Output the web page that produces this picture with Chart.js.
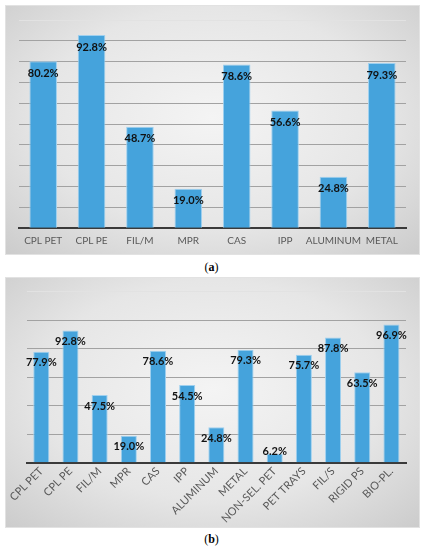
<!DOCTYPE html>
<html>
<head>
<meta charset="utf-8">
<script src="https://cdn.jsdelivr.net/npm/chart.js@4/dist/chart.umd.min.js"></script>
<style>
  body { margin: 0; background: #fff; width: 423px; height: 550px; position: relative; overflow: hidden; }
  .box {
    position: absolute; left: 6px; width: 413px;
    background: radial-gradient(ellipse 75% 80% at 50% 45%, #f4f4f4 0%, #e6e6e6 55%, #c9c9c9 100%);
    box-shadow: 0 0 0 1px #e2e2e2;
  }
  .box canvas { display: block; }
  .cap {
    position: absolute; left: 0; width: 423px; text-align: center;
    font-family: "Liberation Serif", "DejaVu Serif", serif; font-size: 12px; color: #000;
  }
</style>
</head>
<body>
<div class="box" style="top:6px;height:248px;"><canvas id="chartA" width="413" height="248"></canvas></div>
<div class="cap" style="top:260px;">(<b>a</b>)</div>
<div class="box" style="top:278px;height:249px;"><canvas id="chartB" width="413" height="249"></canvas></div>
<div class="cap" style="top:532px;">(<b>b</b>)</div>
<script>
// chart (a)
const labelsA = ['CPL PET', 'CPL PE', 'FIL/M', 'MPR', 'CAS', 'IPP', 'ALUMINUM', 'METAL'];
const valuesA = [80.2, 92.8, 48.7, 19.0, 78.6, 56.6, 24.8, 79.3];

// chart (b)
const labelsB = ['CPL PET', 'CPL PE', 'FIL/M', 'MPR', 'CAS', 'IPP', 'ALUMINUM', 'METAL',
  'NON-SEL. PET', 'PET TRAYS', 'FIL/S', 'RIGID PS', 'BIO-PL.'];
const valuesB = [77.9, 92.8, 47.5, 19.0, 78.6, 54.5, 24.8, 79.3, 6.2, 75.7, 87.8, 63.5, 96.9];

const FONT = 'Lato, Carlito, "Open Sans", sans-serif';
const BAR = '#45a3dc';

// value labels drawn inside the top of each bar
const valueLabels = {
  id: 'valueLabels',
  afterDatasetsDraw(chart, args, opts) {
    const ctx = chart.ctx;
    const meta = chart.getDatasetMeta(0);
    const data = chart.data.datasets[0].data;
    ctx.save();
    ctx.font = 'bold 11px ' + FONT;
    ctx.fillStyle = '#111';
    ctx.textAlign = 'center';
    ctx.textBaseline = 'middle';
    meta.data.forEach((bar, i) => {
      let y = bar.y + opts.offset;
      if (opts.clampToBase) y = Math.min(y, bar.base - opts.offset);
      ctx.fillText(data[i].toFixed(1) + '%', bar.x, y);
    });
    ctx.restore();
  }
};

function makeChart(id, labels, values, cfg) {
  return new Chart(document.getElementById(id), {
    type: 'bar',
    data: {
      labels: labels,
      datasets: [{
        data: values,
        backgroundColor: BAR,
        borderColor: '#9fd0ef',
        borderWidth: 1,
        barPercentage: cfg.barPct,
        categoryPercentage: 1
      }]
    },
    options: {
      responsive: false,
      animation: false,
      layout: { padding: cfg.padding },
      plugins: {
        legend: { display: false },
        tooltip: { enabled: false },
        valueLabels: cfg.labelOpts
      },
      scales: {
        x: {
          grid: { display: false, drawTicks: false },
          border: { display: true, color: '#3a3a3a', width: 2 },
          ticks: {
            color: '#595959',
            font: { family: FONT, size: cfg.tickSize },
            padding: cfg.tickPad,
            minRotation: cfg.rotation,
            maxRotation: cfg.rotation,
            autoSkip: false
          },
          afterFit: (s) => { s.height = cfg.xHeight; }
        },
        y: {
          min: 0,
          max: cfg.max,
          ticks: { display: false, stepSize: cfg.step },
          border: { display: false },
          grid: {
            drawTicks: false,
            color: (c) => c.tick && c.tick.value === cfg.max ? '#e2e2e2' : '#a2a2a2',
            lineWidth: 1
          }
        }
      }
    },
    plugins: [valueLabels]
  });
}

makeChart('chartA', labelsA, valuesA, {
  barPct: 0.57,
  padding: { left: 13, right: 13, top: 14, bottom: 0 },
  tickSize: 10,
  tickPad: 6.5,
  rotation: 0,
  xHeight: 25.7,
  max: 100,
  step: 10,
  labelOpts: { offset: 12, clampToBase: false }
});

makeChart('chartB', labelsB, valuesB, {
  barPct: 0.55,
  padding: { left: 20.7, right: 13, top: 13.7, bottom: 0 },
  tickSize: 11,
  tickPad: 2,
  rotation: 45,
  xHeight: 64.3,
  max: 120,
  step: 20,
  labelOpts: { offset: 11, clampToBase: true }
});
</script>
</body>
</html>
